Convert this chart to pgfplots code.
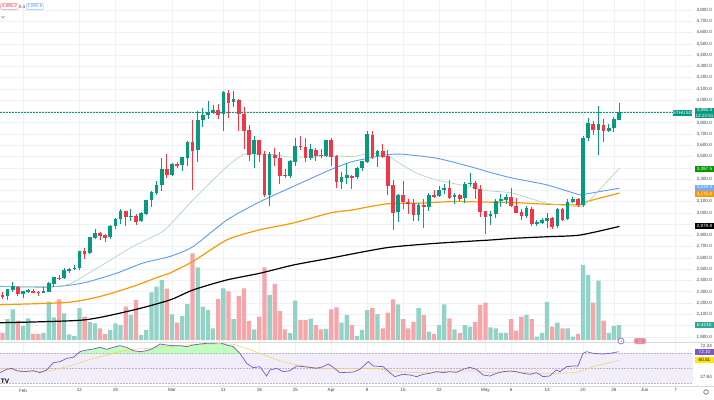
\documentclass[border=0pt]{standalone}
\usepackage{pgfplots}
\pgfplotsset{compat=1.18}
\usepackage{pgfplotstable}
\usepackage{fontspec}
\setmainfont{Liberation Sans}
\definecolor{up}{HTML}{089981}
\definecolor{dn}{HTML}{F23645}
\definecolor{vup}{HTML}{92D2C7}
\definecolor{vdn}{HTML}{F6A5A9}
\definecolor{maA}{HTML}{A8D5A8}
\definecolor{maB}{HTML}{5B9CF6}
\definecolor{maC}{HTML}{FF9800}
\definecolor{rsiP}{HTML}{7E57C2}
\definecolor{rsiY}{HTML}{F2D660}
\definecolor{band}{HTML}{F1EDFA}
\definecolor{gridc}{HTML}{EEF1F7}
\definecolor{labc}{HTML}{3E4250}
\newcommand\lab{\fontsize{4.6}{5.2}\selectfont}

\pgfplotstableread{
d O H L C V
-3 2258 2320 2225 2317 8.9
-2 2317 2390 2300 2343 13.1
0 2283 2310 2245 2304 6.0
1 2304 2325 2290 2309 9.3
4 2290 2340 2285 2300 3.1
5 2300 2390 2295 2372 16.4
6 2372 2435 2345 2425 9.7
8 2420 2515 2410 2486 11.4
9 2486 2515 2470 2500 2.4
10 2500 2535 2490 2507 1.7
11 2507 2665 2495 2659 13.8
13 2643 2785 2635 2778 7.8
14 2778 2860 2765 2822 7.1
17 2786 2890 2770 2881 4.3
18 2881 2950 2860 2945 7.1
19 2945 3030 2905 3015 6.4
21 2967 3035 2930 2972 10.7
23 2924 3005 2915 2993 2.1
24 2993 3115 2985 3112 4.3
25 3112 3190 3050 3178 20.4
26 3178 3285 3160 3243 22.8
27 3243 3490 3195 3385 25.7
29 3340 3445 3330 3433 11.0
31 3421 3495 3375 3488 10.3
32 3488 3635 3420 3628 15.4
34 3556 3900 3450 3820 31.1
35 3820 3935 3765 3868 14.3
36 3868 3995 3830 3888 12.8
37 3888 3960 3880 3913 5.0
39 3877 4085 3730 4066 22.1
41 3982 4085 3940 4004 8.9
45 3523 3680 3400 3643 4.6
48 3160 3540 3060 3517 19.3
52 3330 3470 3310 3454 2.9
53 3454 3660 3420 3591 16.8
56 3491 3610 3470 3560 9.1
59 3508 3650 3500 3647 4.8
62 3278 3365 3210 3311 7.4
63 3311 3440 3260 3331 10.7
65 3318 3405 3300 3398 1.7
66 3398 3460 3375 3454 4.3
67 3454 3730 3445 3695 12.8
69 3505 3560 3410 3545 11.1
73 3006 3170 2915 3157 15.3
77 2985 3090 2930 3067 13.6
79 3055 3180 3020 3156 3.6
81 3147 3240 3140 3200 6.4
82 3200 3260 3170 3219 15.3
84 3140 3175 3075 3155 4.6
86 3131 3270 3085 3256 6.4
87 3256 3355 3235 3263 5.7
91 2970 3020 2890 2988 5.4
92 2988 3120 2955 3104 5.0
93 3104 3170 3050 3117 3.1
94 3117 3170 3080 3137 3.1
98 2975 3060 2950 3036 10.6
100 2910 2935 2880 2912 1.4
101 2912 2955 2900 2930 3.1
102 2930 2995 2865 2950 16.3
104 2882 3045 2865 3035 7.4
106 2945 3120 2935 3095 5.0
107 3095 3145 3090 3122 1.4
109 3071 3680 3050 3663 32.1
110 3663 3840 3640 3790 27.8
112 3737 3950 3510 3781 25.4
114 3728 3790 3720 3749 3.1
115 3749 3855 3720 3826 6.0
116 3826 3975 3820 3890 6.421
}\upT

\pgfplotstableread{
d O H L C V
-4 2267 2300 2235 2258 3.1
-1 2343 2350 2265 2283 8.3
2 2309 2325 2290 2296 2.6
3 2296 2305 2265 2290 2.6
7 2425 2450 2405 2420 17.4
12 2659 2690 2590 2643 10.0
15 2822 2830 2760 2803 5.0
16 2803 2810 2745 2786 2.6
20 3015 3020 2880 2967 14.3
22 2972 2990 2895 2924 17.1
28 3385 3520 3310 3340 22.0
30 3433 3455 3400 3421 7.4
33 3628 3825 3200 3556 37.1
38 3913 3965 3830 3877 17.5
40 4066 4090 3840 3982 20.8
42 4004 4010 3730 3880 18.8
43 3880 3940 3570 3735 22.1
44 3735 3780 3460 3523 8.1
46 3643 3650 3450 3519 10.0
47 3519 3550 3140 3160 31.1
49 3517 3580 3420 3490 24.0
50 3490 3540 3255 3335 12.4
51 3335 3390 3310 3330 4.6
54 3591 3680 3560 3586 8.6
55 3586 3665 3450 3491 8.6
57 3560 3580 3460 3512 6.4
58 3512 3565 3490 3508 4.5
60 3647 3660 3420 3505 13.1
61 3505 3510 3220 3278 14.0
64 3331 3340 3210 3318 6.4
68 3695 3725 3480 3505 13.6
70 3545 3615 3490 3505 5.0
71 3505 3555 3160 3243 11.7
72 3243 3290 2850 3006 17.4
74 3157 3280 3030 3100 8.9
75 3100 3125 2990 3086 5.0
76 3086 3125 2925 2985 7.8
78 3067 3125 2870 3055 10.7
80 3156 3200 3130 3147 2.6
83 3219 3290 3120 3140 9.3
85 3155 3165 3105 3131 2.9
88 3263 3285 3120 3216 7.8
89 3216 3250 2960 3014 15.0
90 3014 3020 2815 2970 16.0
95 3137 3220 3050 3064 8.9
96 3064 3130 3000 3006 4.0
97 3006 3030 2940 2975 10.0
99 3036 3055 2880 2910 8.9
103 2950 2965 2860 2882 5.7
105 3035 3045 2930 2945 5.0
108 3122 3130 3050 3071 2.6
111 3790 3815 3690 3737 16.0
113 3781 3830 3625 3728 8.3
}\dnT

\pgfplotsset{
  panel/.style={at={(0,0)}, anchor=north west, scale only axis, width=693bp,
    xmin=-4.47, xmax=130.4, clip=true},
}

\begin{document}
\begin{tikzpicture}
\path[use as bounding box, fill=white] (0,0) rectangle (714bp,-400bp);

% ---------- price grid and price scale
\begin{axis}[panel, height=342bp, ymin=1854, ymax=4889,
  axis line style={draw=none}, tick style={draw=none},
  xtick={0,11,18,29,39,46,53,60,67,74,81,90,95,102,109,115,121,127},
  xticklabels={,,,,,,,,,,,,,,,,,},
  ytick={1900,2000,...,4800},
  yticklabels={{1,900.0},{},{2,100.0},{2,200.0},{2,300.0},{2,400.0},{2,500.0},{2,600.0},{2,700.0},{2,800.0},{},{3,000.0},{3,100.0},{},{3,300.0},{},{3,500.0},{3,600.0},{3,700.0},{3,800.0},{},{4,000.0},{4,100.0},{4,200.0},{4,300.0},{4,400.0},{4,500.0},{4,600.0},{4,700.0},{4,800.0}},
  yticklabel pos=right,
  yticklabel style={font=\lab, text=labc, anchor=east, inner sep=0pt, xshift=19bp},
  grid=major, major grid style={gridc, line width=0.5bp}]
\addplot[draw=none] coordinates {(0,3000)};
\end{axis}

% ---------- volume
\begin{axis}[panel, height=340bp, ymin=0, ymax=145.5, hide axis, ybar, bar width=4.3bp]
\addplot[fill=vup, draw=none, bar shift=0pt] table[x=d, y=V] {\upT};
\addplot[fill=vdn, draw=none, bar shift=0pt] table[x=d, y=V] {\dnT};
\end{axis}

% ---------- price: moving averages and candles
\begin{axis}[panel, height=342bp, ymin=1854, ymax=4889, hide axis]
\addplot[up, densely dotted, line width=0.5bp] coordinates {(-4.47,3890) (130.4,3890)};
\addplot[black, line width=1.2bp, smooth, tension=0.4] coordinates {
(-4.47,2025) (11.7,2049) (21.5,2138) (28.6,2227) (33.1,2316) (39.6,2404) (46.1,2464) (52.6,2537) (59.7,2597) (70.8,2691) (80.5,2730) (90.9,2759) (95.4,2774) (101.9,2788) (108.4,2803) (116.1,2880)};
\addplot[maC, line width=1.2bp, smooth, tension=0.4] coordinates {
(-4.47,2185) (8.56,2205) (14.98,2258) (21.4,2347) (26.65,2436) (28.6,2466) (33.07,2569) (39.7,2761) (46.1,2850) (52.5,2909) (59.7,2998) (64.2,3027) (70.8,3080) (77.2,3086) (83.7,3100) (90.86,3095) (95.3,3092) (101.9,3077) (108.4,3071) (109.7,3100) (116.1,3176)};
\addplot[maB, line width=0.9bp, smooth, tension=0.4] coordinates {
(-4.47,2347) (5.25,2342) (11.67,2377) (18.3,2466) (23.3,2554) (28.6,2613) (33.07,2700) (39.7,2937) (46.1,3099) (52.5,3232) (59.7,3380) (64.2,3456) (70.8,3515) (73.9,3520) (80.5,3485) (87.0,3411) (90.86,3360) (95.3,3308) (101.9,3249) (108.4,3160) (109.7,3169) (116.1,3219)};
\addplot[maA, line width=0.6bp, smooth, tension=0.4] coordinates {
(-4.47,2350) (5.25,2345) (9.14,2370) (14.98,2525) (21.4,2702) (26.65,2820) (28.6,2893) (33.07,3115) (39.69,3411) (42.8,3515) (44.75,3529) (49.4,3515) (52.5,3494) (59.7,3506) (64.2,3500) (67.5,3528) (70.8,3513) (73.3,3440) (76.65,3351) (80.5,3292) (83.66,3262) (87.0,3232) (90.3,3197) (95.3,3175) (101.9,3086) (108.4,3056) (109.7,3086) (116.1,3397)};
% wicks
\addplot[draw=none, mark=none, error bars/.cd, y dir=minus, y explicit, error mark=none,
  error bar style={draw=up, line width=0.8bp}]
  table[x=d, y=H, y error minus expr=\thisrow{H}-\thisrow{L}] {\upT};
\addplot[draw=none, mark=none, error bars/.cd, y dir=minus, y explicit, error mark=none,
  error bar style={draw=dn, line width=0.8bp}]
  table[x=d, y=H, y error minus expr=\thisrow{H}-\thisrow{L}] {\dnT};
% bodies
\addplot[up, only marks, mark=-, mark size=1.85bp, mark options={line width=0.8bp},
  error bars/.cd, y dir=minus, y explicit, error mark=none,
  error bar style={draw=up, line width=3.7bp}]
  table[x=d, y=C, y error minus expr=\thisrow{C}-\thisrow{O}] {\upT};
\addplot[dn, only marks, mark=-, mark size=1.85bp, mark options={line width=0.8bp},
  error bars/.cd, y dir=plus, y explicit, error mark=none,
  error bar style={draw=dn, line width=3.7bp}]
  table[x=d, y=C, y error plus expr=\thisrow{O}-\thisrow{C}] {\dnT};
\end{axis}

% ---------- RSI
\begin{axis}[panel, at={(0,-342bp)}, height=44bp, ymin=26.4, ymax=85.1,
  axis line style={draw=none}, tick style={draw=none}, ytick=\empty,
  xtick={0,11,18,29,39,46,53,60,67,74,81,90,95,102,109,115,121,127},
  xticklabels={Feb,12,19,Mar,11,18,25,Apr,8,15,22,May,6,13,20,26,Jun,7},
  xticklabel style={font=\lab, text=labc, inner sep=0pt, yshift=-2.5bp},
  xmajorgrids, major grid style={gridc, line width=0.5bp}]
\addplot[fill=band, draw=none] coordinates {(-4.47,30) (130.4,30) (130.4,70) (-4.47,70)} -- cycle;
\addplot[gray!55, line width=0.4bp, dash pattern=on 1.5bp off 1.5bp] coordinates {(-4.47,70) (130.4,70)};
\addplot[gray!55, line width=0.4bp, dash pattern=on 1.5bp off 1.5bp] coordinates {(-4.47,50) (130.4,50)};
\addplot[gray!55, line width=0.4bp, dash pattern=on 1.5bp off 1.5bp] coordinates {(-4.47,30) (130.4,30)};
\addplot[fill=green!45!white, fill opacity=0.55, draw=none] coordinates {
(10.71,70) (11.09,72.2) (11.73,73.5) (12.39,74.4) (13.68,75.7) (14.98,78.0) (16.28,75.3) (17.57,78.0) (18.87,80.2) (20.17,78.0) (21.46,73.5) (22.76,72.2) (24.07,73.5) (25.35,76.6) (26.65,82.4) (27.96,81.1) (29.24,80.2) (30.54,80.2) (31.85,78.9) (33.13,81.1) (34.44,82.4) (35.74,83.3) (37.02,83.3) (38.33,84.2) (39.63,81.1) (40.91,78.9) (42.22,70.0)} -- cycle;
\addplot[rsiY, line width=0.6bp, smooth] coordinates {
(-4.47,50.0) (-2.53,48.6) (-0.58,46.8) (2.0,45.5) (3.95,46.0) (5.9,47.7) (8.5,52.2) (11.09,57.5) (13.68,63.3) (16.28,67.7) (18.87,72.2) (21.46,75.3) (24.07,76.6) (26.65,78.0) (29.24,79.7) (31.85,81.1) (34.44,82.0) (37.02,82.4) (39.63,82.4) (40.91,82.0) (43.52,76.6) (46.11,70.0) (48.7,63.3) (51.3,57.5) (53.89,54.0) (56.48,51.3) (59.09,50.0) (61.67,49.5) (65.56,50.0) (68.15,50.0) (70.76,47.7) (73.35,45.5) (77.88,44.2) (81.13,45.5) (87.61,46.4) (90.86,44.6) (94.1,45.5) (97.33,44.6) (100.6,43.3) (103.8,43.3) (107.1,44.2) (108.4,45.5) (111.0,52.2) (113.6,56.6) (115.9,60.5)};
\addplot[rsiP, line width=0.7bp] coordinates {
(-4.47,44.2) (-3.17,48.6) (-2.2,50.0) (-1.23,46.8) (0.06,45.5) (2.0,46.8) (3.31,44.2) (4.61,47.7) (5.9,57.5) (7.2,58.9) (8.5,63.3) (9.79,64.6) (11.09,72.2) (11.73,73.5) (12.39,74.4) (13.68,75.7) (14.98,78.0) (16.28,75.3) (17.57,78.0) (18.87,80.2) (20.17,78.0) (21.46,73.5) (22.76,72.2) (24.07,73.5) (25.35,76.6) (26.65,82.4) (27.96,81.1) (29.24,80.2) (30.54,80.2) (31.85,78.9) (33.13,81.1) (34.44,82.4) (35.74,83.3) (37.02,83.3) (38.33,84.2) (39.63,81.1) (40.91,78.9) (42.22,70.0) (43.52,56.6) (44.81,50.8) (46.11,52.2) (47.41,39.7) (48.05,47.7) (49.36,50.0) (50.64,45.5) (51.95,46.8) (53.25,53.1) (54.53,52.2) (55.84,51.3) (57.14,50.0) (58.42,52.2) (59.4,55.7) (60.37,51.3) (61.67,44.2) (62.98,44.6) (64.27,45.0) (65.56,48.6) (67.2,58.9) (68.15,53.1) (70.1,52.2) (71.4,44.2) (72.37,38.9) (73.98,42.0) (75.3,41.1) (76.6,38.9) (77.88,42.0) (79.18,43.3) (80.49,45.5) (81.77,44.2) (83.07,45.5) (84.38,44.6) (85.66,48.6) (86.96,51.3) (88.27,48.6) (89.55,41.1) (90.86,39.7) (92.16,43.3) (93.44,45.5) (94.75,46.4) (96.05,45.5) (97.33,43.3) (98.64,42.0) (99.94,44.2) (101.2,38.9) (102.5,39.7) (103.8,47.7) (104.5,45.5) (105.8,52.2) (107.1,53.1) (108.0,53.1) (109.0,70.0) (109.7,72.2) (111.0,70.0) (112.9,69.1) (114.2,70.0) (115.9,72.1)};
\end{axis}

% ---------- pane separators
\draw[gray!30, line width=0.6bp] (0,-342bp) -- (714bp,-342bp);
\draw[gray!30, line width=0.6bp] (0,-386.5bp) -- (714bp,-386.5bp);

% ---------- badges on the price scale
\newcommand\badge[4]{\node[fill=#3, text=#4, font=\lab, inner sep=0pt, minimum width=19.5bp, minimum height=5.8bp, anchor=west] at (694.5bp,-#1bp) {#2};}
\node[fill=up, text=white, font=\lab, inner sep=0.4bp, minimum width=19.5bp, align=center, anchor=west] at (694.5bp,-113bp) {3,896.4\\13:13:51};
\node[fill=up, text=white, font=\lab, inner sep=0.4bp, minimum width=13bp, minimum height=5.8bp, anchor=east] at (692.5bp,-112.7bp) {ETHUSD};
\badge{169}{3,397.5}{green!60!black}{white}
\badge{187.6}{3,219.3}{maB!85!white}{white}
\badge{194}{3,175.8}{maC}{white}
\badge{226}{2,879.8}{black}{white}
\badge{325}{6.421K}{up!85!white}{white}
\node[font=\lab, text=labc, anchor=east, inner sep=0pt] at (712bp,-346bp) {72.34};
\badge{352}{72.10}{rsiP}{white}
\badge{360.3}{60.51}{yellow!90!orange}{black}
\node[font=\lab, text=labc, anchor=east, inner sep=0pt] at (712bp,-377bp) {27.84};

% ---------- small interface marks
\node[draw=dn!60, text=dn, font=\lab, inner sep=1pt, rounded corners=1bp, anchor=west] at (0.5bp,-6.5bp) {3,895.2};
\node[text=labc, font=\lab, inner sep=0pt] at (22bp,-6.5bp) {0.4};
\node[draw=maB!70, text=maB, font=\lab, inner sep=1pt, rounded corners=1bp, anchor=west] at (26bp,-6.5bp) {3,895.6};
\draw[gray, line width=0.5bp] (1.5bp,-16bp) -- (3bp,-18bp) -- (4.5bp,-16bp);
\node[font=\bfseries\fontsize{6.5}{7}\selectfont, inner sep=0pt] at (5bp,-381.5bp) {TV};
\draw[labc, line width=0.5bp] (706bp,-392bp) circle (2.3bp);
\draw[rsiP, fill=white, line width=0.6bp] (621bp,-341bp) circle (3bp);
\draw[rsiP, line width=0.4bp] (621bp,-341bp) -- (621bp,-339.3bp) (621bp,-341bp) -- (622.3bp,-341.8bp);
\fill[dn!55, rounded corners=2bp] (634bp,-344bp) rectangle (646bp,-338bp);
\fill[maB] (637bp,-341bp) circle (1.1bp) (643bp,-341bp) circle (1.1bp);
\end{tikzpicture}
\end{document}
